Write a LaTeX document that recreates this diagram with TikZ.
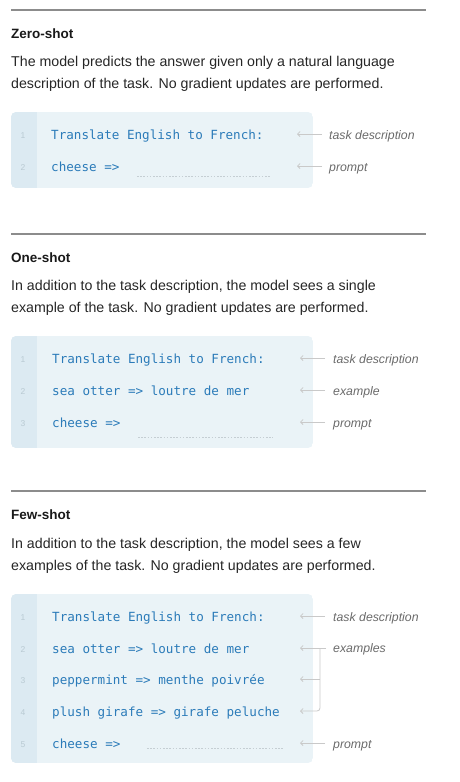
\documentclass[tikz,border=0pt]{standalone}
\usepackage{fontspec}
\setmainfont{Liberation Sans}
\newfontfamily\codefont{DejaVu Sans Mono}
\usetikzlibrary{arrows.meta}
\definecolor{rulec}{HTML}{8C8C8C}
\definecolor{boxc}{HTML}{EAF3F7}
\definecolor{gutc}{HTML}{DCEAF2}
\definecolor{codec}{HTML}{2B7BB9}
\definecolor{numc}{HTML}{B9CAD3}
\definecolor{arrc}{HTML}{C9C9C9}
\definecolor{labc}{HTML}{6A6A6A}
\definecolor{dotc}{HTML}{C5CED3}
\tikzset{
  hdr/.style={anchor=mid west, inner sep=0pt, yshift=-2.5pt, font=\fontsize{13.5}{16}\selectfont\bfseries, text=black!90},
  desc/.style={anchor=mid west, inner sep=0pt, yshift=-2.5pt, font=\fontsize{14.2}{17}\selectfont, text=black!85},
  code/.style={anchor=mid west, inner sep=0pt, yshift=-2.5pt, font=\codefont\fontsize{12.6}{15}\selectfont, text=codec},
  num/.style={anchor=mid, inner sep=0pt, yshift=-1.5pt, font=\fontsize{8.5}{10}\selectfont, text=numc},
  lab/.style={anchor=mid west, inner sep=0pt, yshift=-2.5pt, font=\fontsize{12.3}{15}\selectfont\itshape, text=labc},
  arr/.style={draw=arrc, line width=0.8pt, -{Straight Barb[length=2.5pt,width=5pt]}},
  sep/.style={draw=rulec, line width=1.1pt},
  dots/.style={draw=dotc, line width=0.7pt, dash pattern=on 1.6pt off 1.6pt},
}
\begin{document}
\begin{tikzpicture}[x=1pt,y=-1pt]
\useasboundingbox (0,0) rectangle (460,782);
% ---------------- Zero-shot
\coordinate (r1a) at (11,10); \coordinate (r1b) at (426,10);
\draw[sep] (r1a) -- (r1b);
\node[hdr] (h1) at (11,33) {Zero-shot};
\node[desc] (d1a) at (11,61) {The model predicts the answer given only a natural language};
\node[desc] (d1b) at (11,83) {description of the task. No gradient updates are performed.};
\begin{scope}
\clip[rounded corners=5pt] (11,112) rectangle (313,188);
\fill[boxc] (11,112) rectangle (313,188);
\fill[gutc] (11,112) rectangle (37,188);
\end{scope}
\node[num] (n11) at (23,134) {1};
\node[num] (n12) at (23,166) {2};
\node[code] (c11) at (51,134) {Translate English to French:};
\node[code] (c12) at (51,166) {cheese =>};
\coordinate (p1a) at (137,176); \coordinate (p1b) at (270,176);
\draw[dots] (p1a) -- (p1b);
\node[lab] (l11) at (329,134) {task description};
\node[lab] (l12) at (329,166) {prompt};
\coordinate (t11) at (297,134); \coordinate (t12) at (297,166);
\coordinate (s11) at (322,134); \coordinate (s12) at (322,166);
\draw[arr] (s11) -- (t11);
\draw[arr] (s12) -- (t12);
% ---------------- One-shot
\coordinate (r2a) at (11,234); \coordinate (r2b) at (426,234);
\draw[sep] (r2a) -- (r2b);
\node[hdr] (h2) at (11,257) {One-shot};
\node[desc] (d2a) at (11,285) {In addition to the task description, the model sees a single};
\node[desc] (d2b) at (11,307) {example of the task. No gradient updates are performed.};
\begin{scope}
\clip[rounded corners=5pt] (11,336) rectangle (313,448);
\fill[boxc] (11,336) rectangle (313,448);
\fill[gutc] (11,336) rectangle (37,448);
\end{scope}
\node[num] (n21) at (23,358) {1};
\node[num] (n22) at (23,390) {2};
\node[num] (n23) at (23,422) {3};
\node[code] (c21) at (52,358) {Translate English to French:};
\node[code] (c22) at (52,390) {sea otter => loutre de mer};
\node[code] (c23) at (52,422) {cheese =>};
\coordinate (p2a) at (138,437); \coordinate (p2b) at (273,437);
\draw[dots] (p2a) -- (p2b);
\node[lab] (l21) at (333,358) {task description};
\node[lab] (l22) at (333,390) {example};
\node[lab] (l23) at (333,422) {prompt};
\coordinate (t21) at (300,358); \coordinate (t22) at (300,390); \coordinate (t23) at (300,422);
\coordinate (s21) at (325,358); \coordinate (s22) at (325,390); \coordinate (s23) at (325,422);
\draw[arr] (s21) -- (t21);
\draw[arr] (s22) -- (t22);
\draw[arr] (s23) -- (t23);
% ---------------- Few-shot
\coordinate (r3a) at (11,491); \coordinate (r3b) at (426,491);
\draw[sep] (r3a) -- (r3b);
\node[hdr] (h3) at (11,514) {Few-shot};
\node[desc] (d3a) at (11,543) {In addition to the task description, the model sees a few};
\node[desc] (d3b) at (11,565) {examples of the task. No gradient updates are performed.};
\begin{scope}
\clip[rounded corners=5pt] (11,594) rectangle (313,763);
\fill[boxc] (11,594) rectangle (313,763);
\fill[gutc] (11,594) rectangle (37,763);
\end{scope}
\node[num] (n31) at (23,616) {1};
\node[num] (n32) at (23,648) {2};
\node[num] (n33) at (23,679) {3};
\node[num] (n34) at (23,711) {4};
\node[num] (n35) at (23,743) {5};
\node[code] (c31) at (52,616) {Translate English to French:};
\node[code] (c32) at (52,648) {sea otter => loutre de mer};
\node[code] (c33) at (52,679) {peppermint => menthe poivrée};
\node[code] (c34) at (52,711) {plush girafe => girafe peluche};
\node[code] (c35) at (52,743) {cheese =>};
\coordinate (p3a) at (147,748); \coordinate (p3b) at (283,748);
\draw[dots] (p3a) -- (p3b);
\node[lab] (l31) at (333,616) {task description};
\node[lab] (l32) at (333,647) {examples};
\node[lab] (l35) at (333,743) {prompt};
\coordinate (t31) at (300,616); \coordinate (t32) at (300,648);
\coordinate (t33) at (300,679); \coordinate (t34) at (300,711);
\coordinate (t35) at (300,743);
\coordinate (s31) at (325,616); \coordinate (s32) at (326,648); \coordinate (s35) at (325,743);
\coordinate (bk) at (320,648);
\draw[arr] (s31) -- (t31);
\draw[arr] (s32) -- (t32);
\draw[arr] (s35) -- (t35);
\draw[arr, rounded corners=3pt] (bk) -- (bk |- t34) -- (t34);
\draw[arr] (bk |- t33) -- (t33);
\end{tikzpicture}
\end{document}
